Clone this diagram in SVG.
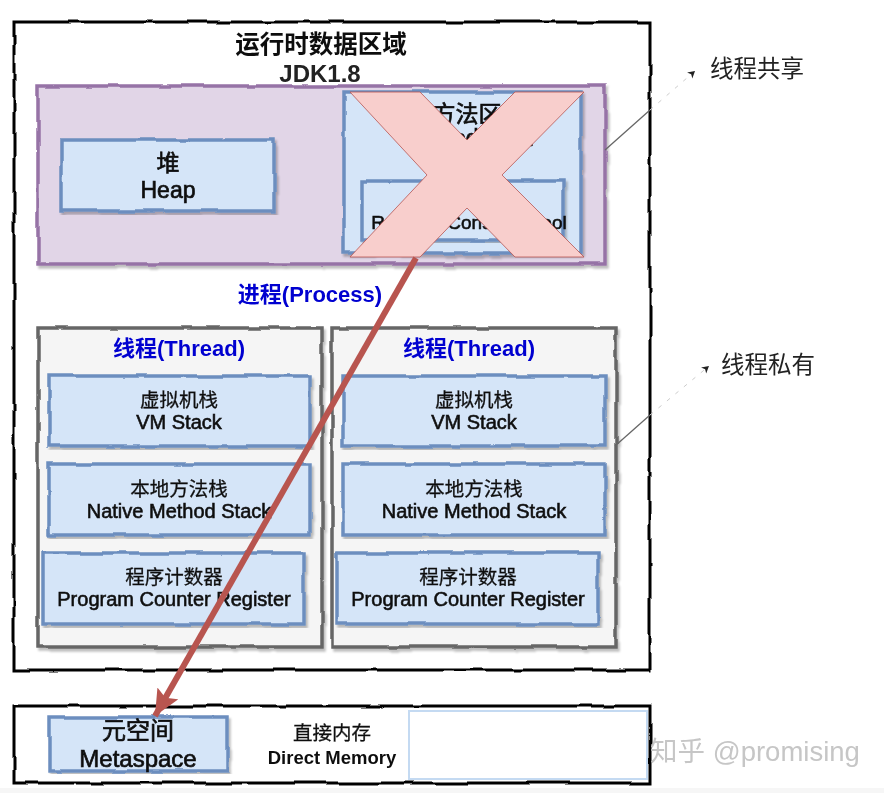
<svg xmlns="http://www.w3.org/2000/svg" width="884" height="793" viewBox="0 0 884 793">
<style>
text{font-family:"Liberation Sans","Noto Sans CJK SC",sans-serif;text-anchor:middle;fill:#111}
.b{fill:#d5e5f8;stroke:#6c8ebf;stroke-width:3.5}
.o{fill:#fff;stroke:#000;stroke-width:3}
.p{fill:#e1d5e7;stroke:#9673a6;stroke-width:3.5}
.t{fill:#f5f5f5;stroke:#666;stroke-width:3.5}
.z{font-size:19.5px;stroke:#111;stroke-width:.3}
.s{font-size:20px;stroke:#111;stroke-width:.6}
.h{font-size:23px;stroke:#111;stroke-width:.7}
.c{fill:#0000d0;font-size:22px;font-weight:700}
.n{font-size:23.5px;fill:#222}
.l{stroke:#666;stroke-width:1.3;fill:none}
.d{stroke:#ccc;stroke-width:1;stroke-dasharray:4 7;fill:none}
</style>
<defs>
<filter id="w" x="-5%" y="-5%" width="110%" height="110%">
<feTurbulence type="fractalNoise" baseFrequency="0.03" numOctaves="2" seed="4" result="n"/>
<feDisplacementMap in="SourceGraphic" in2="n" scale="3.5" xChannelSelector="R" yChannelSelector="G"/>
</filter>
<filter id="sh" x="-5%" y="-5%" width="110%" height="110%">
<feTurbulence type="fractalNoise" baseFrequency="0.03" numOctaves="2" seed="9" result="n"/>
<feDisplacementMap in="SourceGraphic" in2="n" scale="3.5" xChannelSelector="R" yChannelSelector="G" result="d"/>
<feDropShadow in="d" dx="2" dy="3" stdDeviation="1" flood-color="#000" flood-opacity=".25"/>
</filter>
<filter id="soft"><feGaussianBlur stdDeviation=".5"/></filter>
<marker id="red" markerUnits="userSpaceOnUse" markerWidth="30" markerHeight="30" refX="26" refY="12" orient="auto"><path d="M0 0L26 12L0 24L5 12Z" fill="#b85450"/></marker>
<marker id="blk" markerUnits="userSpaceOnUse" markerWidth="10" markerHeight="10" refX="7" refY="4" orient="auto"><path d="M0 0L7 4L0 8L2 4Z" fill="#222"/></marker>
</defs>
<rect width="884" height="793" fill="#fff"/>
<rect y="788" width="884" height="5" fill="#f6f6f6"/>
<g filter="url(#soft)">
<g id="runtime-area"><rect class="o" x="14" y="22" width="636" height="648" filter="url(#w)"/>
<text x="321" y="53" font-size="24.5" font-weight="700">运行时数据区域</text><text x="320" y="82" font-size="24" font-weight="700" style="fill:#222">JDK1.8</text></g>
<g id="shared"><rect class="p" x="38" y="86" width="567" height="178" filter="url(#sh)"/></g>
<g id="heap"><rect class="b" x="61" y="140" width="213" height="71" filter="url(#sh)"/>
<text class="h" x="168" y="171">堆</text><text class="h" x="168" y="198">Heap</text></g>
<g id="method-area"><rect class="b" x="344" y="92" width="237" height="161" filter="url(#sh)"/>
<text class="h" x="467" y="122">方法区</text><text class="h" x="467" y="146">Method Area</text></g>
<g id="constant-pool"><rect class="b" x="362" y="181" width="201" height="59" filter="url(#sh)"/>
<text class="s" x="469" y="229" style="font-size:19px">Runtime Constant Pool</text></g>
<text class="c" x="310" y="302">进程(Process)</text>
<g id="thread-1"><rect class="t" x="38" y="328" width="284" height="319" filter="url(#sh)"/><text class="c" x="179" y="356">线程(Thread)</text></g>
<g id="thread-2"><rect class="t" x="332" y="328" width="284" height="319" filter="url(#sh)"/><text class="c" x="469" y="356">线程(Thread)</text></g>
<g id="vm-stack-1"><rect class="b" x="49" y="376" width="261" height="70" filter="url(#sh)"/><text class="z" x="179" y="407">虚拟机栈</text><text class="s" x="179" y="429">VM Stack</text></g>
<g id="native-stack-1"><rect class="b" x="49" y="464" width="261" height="71" filter="url(#sh)"/><text class="z" x="179" y="496">本地方法栈</text><text class="s" x="179" y="518">Native Method Stack</text></g>
<g id="pc-1"><rect class="b" x="43" y="553" width="261" height="71" filter="url(#sh)"/><text class="z" x="174" y="584">程序计数器</text><text class="s" x="174" y="606">Program Counter Register</text></g>
<g id="vm-stack-2"><rect class="b" x="343" y="376" width="262" height="70" filter="url(#sh)"/><text class="z" x="474" y="407">虚拟机栈</text><text class="s" x="474" y="429">VM Stack</text></g>
<g id="native-stack-2"><rect class="b" x="343" y="464" width="262" height="71" filter="url(#sh)"/><text class="z" x="474" y="496">本地方法栈</text><text class="s" x="474" y="518">Native Method Stack</text></g>
<g id="pc-2"><rect class="b" x="337" y="553" width="261" height="71" filter="url(#sh)"/><text class="z" x="468" y="584">程序计数器</text><text class="s" x="468" y="606">Program Counter Register</text></g>
<g id="direct-area"><rect class="o" x="14" y="706" width="636" height="77" filter="url(#w)"/></g>
<g id="metaspace"><rect class="b" x="49" y="717" width="178" height="54" filter="url(#sh)"/><text class="h" x="138" y="739" style="font-size:24px">元空间</text><text class="h" x="138" y="767" style="font-size:24px">Metaspace</text></g>
<g id="direct-memory"><text class="z" x="332" y="740">直接内存</text><text x="332" y="764" style="font-size:18.5px;font-weight:700">Direct Memory</text></g>
<rect id="blank" x="409" y="711" width="238" height="68" fill="#fff" stroke="#c4daf2" stroke-width="2"/>
<g id="cross"><path d="M350 92H420L467 140L515 92H584L502 175L584 257H515L467 208L420 257H350L427 175Z" fill="#f8cecc" stroke="#b85450" stroke-width=".8"/></g>
<g id="connectors">
<path d="M416 258L155 716" stroke="#b85450" stroke-width="6" fill="none" marker-end="url(#red)"/>
<path class="l" d="M605 150L650 110"/><path class="d" d="M650 110L695 71" marker-end="url(#blk)"/>
<path class="l" d="M615 446L650 415"/><path class="d" d="M650 415L709 366" marker-end="url(#blk)"/>
</g>
<g id="label-shared"><text class="n" x="757" y="77">线程共享</text></g>
<g id="label-private"><text class="n" x="768" y="373">线程私有</text></g>
<text x="755" y="761" font-size="27.5" style="fill:#c6c6c6">知乎 @promising</text>
</g>
</svg>
